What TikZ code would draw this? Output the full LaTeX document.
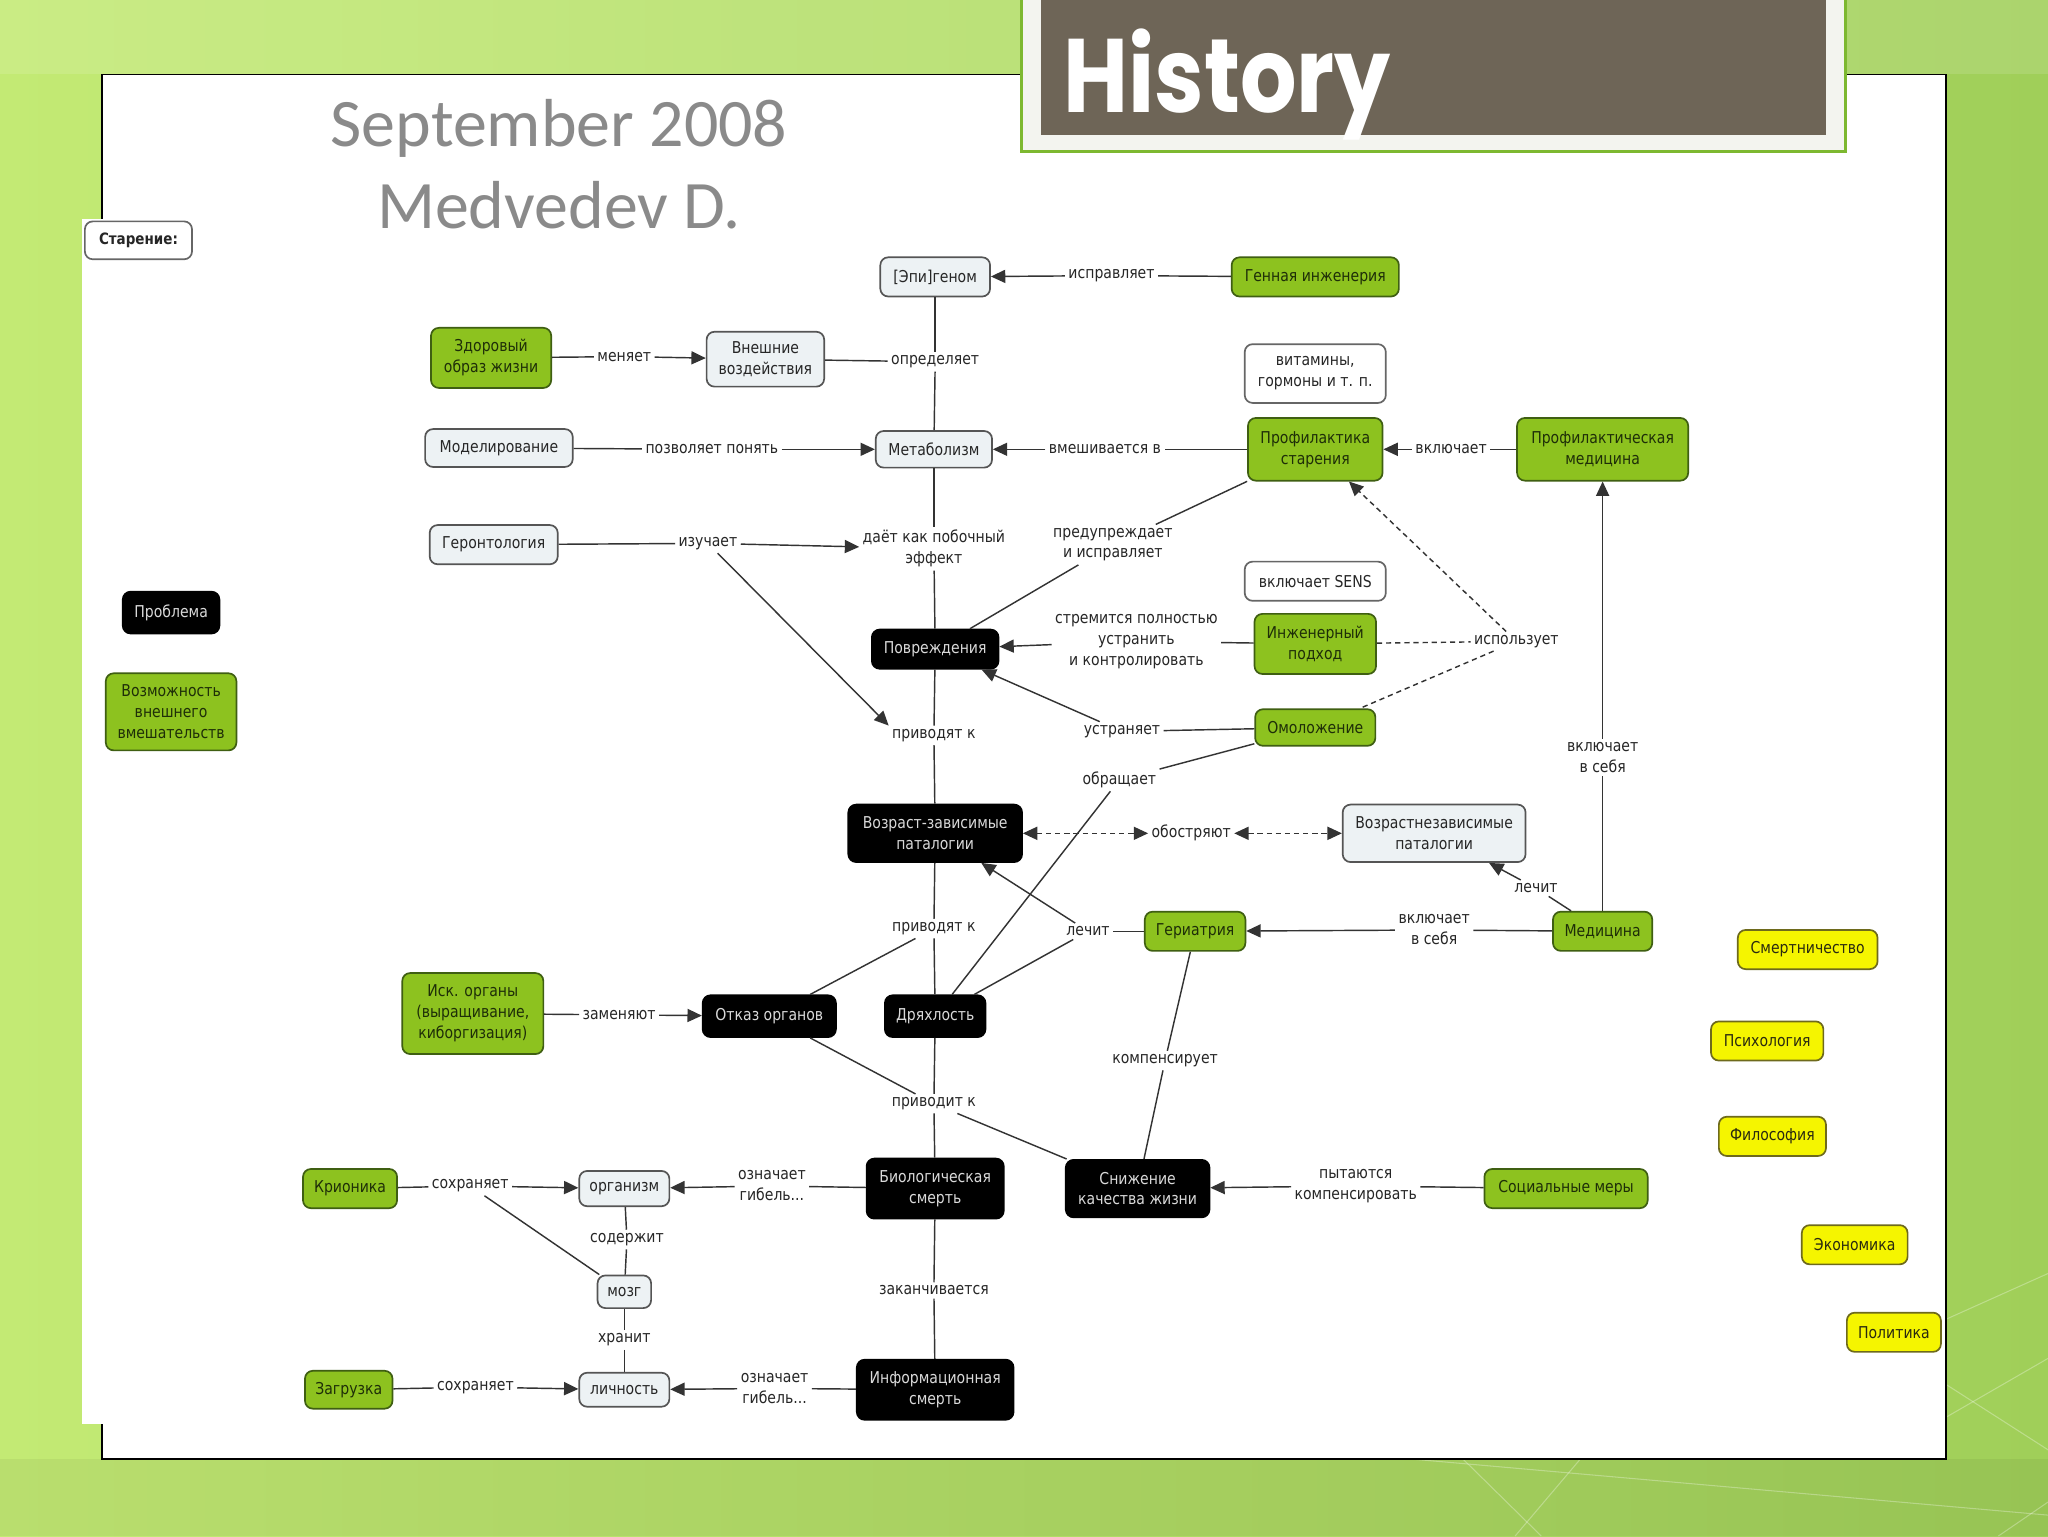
\documentclass[tikz,border=0pt]{standalone}
\usepackage{fontspec}
\usetikzlibrary{arrows.meta}
\newfontfamily\cmf[FakeStretch=0.86]{DejaVu Sans}
\newfontfamily\titlef{Poppins}
\newfontfamily\calf{Carlito}
\definecolor{bgL}{HTML}{C3EA74}
\definecolor{bgR}{HTML}{A0CF59}
\definecolor{gfill}{HTML}{8DC21F}
\definecolor{gborder}{HTML}{3F5F12}
\definecolor{gtext}{HTML}{1E2E08}
\definecolor{btext}{HTML}{DADADA}
\definecolor{lfill}{HTML}{EDF2F4}
\definecolor{lborder}{HTML}{555555}
\definecolor{ltext}{HTML}{262626}
\definecolor{wborder}{HTML}{666666}
\definecolor{yfill}{HTML}{F5F500}
\definecolor{yborder}{HTML}{6E6A1C}
\definecolor{ytext}{HTML}{2A2A10}
\definecolor{lc}{HTML}{333333}
\definecolor{titlebrown}{HTML}{6E6557}
\definecolor{titlegreen}{HTML}{7DB830}
\definecolor{titleouter}{HTML}{F3F4EF}
\definecolor{graytxt}{HTML}{8A8A8A}
\begin{document}
\begin{tikzpicture}[x=1pt,y=-1pt,
  box/.style={rectangle, rounded corners=6pt, line width=1.3pt, align=center, inner sep=1pt,
    font=\cmf\fontsize{12.5}{16}\selectfont},
  gn/.style={box, draw=gborder, fill=gfill, text=gtext},
  bk/.style={box, draw=black, fill=black, text=btext},
  lt/.style={box, draw=lborder, fill=lfill, text=ltext},
  wt/.style={box, draw=wborder, fill=white, text=ltext},
  yl/.style={box, draw=yborder, fill=yfill, text=ytext},
  lbl/.style={align=center, inner sep=2.5pt, text=ltext, font=\cmf\fontsize{12.5}{16}\selectfont},
  ln/.style={draw=lc, line width=1.1pt},
  ar/.style={ln, -{Triangle[length=11pt,width=10pt]}},
  dl/.style={ln, dash pattern=on 4pt off 3pt},
  da/.style={dl, -{Triangle[length=11pt,width=10pt]}},
  dd/.style={dl, {Triangle[length=11pt,width=10pt]}-{Triangle[length=11pt,width=10pt]}},
]
% background
\path[use as bounding box] (0,0) rectangle (1568,1176);
\shade[left color=bgL, right color=bgR] (0,0) rectangle (1568,1176);
\fill[white, opacity=0.12] (0,0) rectangle (1568,57);
\fill[black, opacity=0.05] (0,1117) rectangle (1568,1176);
\begin{scope}[white, opacity=0.3, line width=0.8pt]
  \draw (1490,1010) -- (1568,975);
  \draw (1490,1060) -- (1568,1110);
  \draw (1490,1085) -- (1568,1040);
  \draw (1530,1176) -- (1568,1150);
  \draw (1160,1176) -- (1210,1117);
  \draw (1080,1117) -- (1568,1160);
  \draw (1120,1117) -- (1180,1176);
\end{scope}
% panel
\draw[fill=white, line width=1pt] (78,57) rectangle (1490,1117);
\fill[white] (63,168) rectangle (1488,1090);
% title
\draw[fill=titleouter, draw=titlegreen, line width=2pt] (782,-5) rectangle (1413,116);
\fill[titlebrown] (797,-5) rectangle (1398,103);
\node[anchor=base west, inner sep=0pt, text=white, font=\titlef\bfseries\fontsize{80}{80}\selectfont] (hist) at (814,86) {\scalebox{0.85}[1]{History}};
\node[anchor=base, inner sep=0pt, text=graytxt, font=\calf\fontsize{52}{52}\selectfont] (sept) at (428,112) {September 2008};
\node[anchor=base, inner sep=0pt, text=graytxt, font=\calf\fontsize{52}{52}\selectfont] (medv) at (428,175) {Medvedev D.};

% nodes
\node[wt, minimum width=82, minimum height=29, font=\cmf\bfseries\fontsize{12}{15}\selectfont] (staren) at (106,184) {Старение:};
\node[bk, minimum width=74, minimum height=32] (problema) at (131,469) {Проблема};
\node[gn, minimum width=100, minimum height=59] (vozm) at (131,545) {Возможность\\внешнего\\вмешательств};

\node[lt, minimum width=84, minimum height=30] (epi) at (716,212) {[Эпи]геном};
\node[gn, minimum width=128, minimum height=30] (genn) at (1007,212) {Генная инженерия};
\node[gn, minimum width=92, minimum height=46] (zdor) at (376,274) {Здоровый\\образ жизни};
\node[lt, minimum width=90, minimum height=42] (vnesh) at (586,275) {Внешние\\воздействия};
\node[wt, minimum width=108, minimum height=45] (vitam) at (1007,286) {витамины,\\гормоны и т. п.};
\node[lt, minimum width=113, minimum height=29] (model) at (382,343) {Моделирование};
\node[lt, minimum width=89, minimum height=28] (metab) at (715,344) {Метаболизм};
\node[gn, minimum width=103, minimum height=48] (profst) at (1007,344) {Профилактика\\старения};
\node[gn, minimum width=131, minimum height=48] (profmed) at (1227,344) {Профилактическая\\медицина};
\node[lt, minimum width=98, minimum height=30] (geront) at (378,417) {Геронтология};
\node[wt, minimum width=108, minimum height=30] (sens) at (1007,445) {включает SENS};
\node[bk, minimum width=97, minimum height=30] (povr) at (716,497) {Повреждения};
\node[gn, minimum width=93, minimum height=46] (inzh) at (1007,493) {Инженерный\\подход};
\node[gn, minimum width=92, minimum height=28] (omol) at (1007,557) {Омоложение};
\node[bk, minimum width=133, minimum height=44] (vzp) at (716,638) {Возраст-зависимые\\паталогии};
\node[lt, minimum width=140, minimum height=44] (vnzp) at (1098,638) {Возрастнезависимые\\паталогии};
\node[gn, minimum width=77, minimum height=30] (geriat) at (915,713) {Гериатрия};
\node[gn, minimum width=76, minimum height=30] (medic) at (1227,713) {Медицина};
\node[gn, minimum width=108, minimum height=62] (isk) at (362,776) {Иск. органы\\(выращивание,\\киборгизация)};
\node[bk, minimum width=102, minimum height=32] (otkaz) at (589,778) {Отказ органов};
\node[bk, minimum width=77, minimum height=32] (dryah) at (716,778) {Дряхлость};
\node[yl, minimum width=107, minimum height=30] (smert) at (1384,727) {Смертничество};
\node[yl, minimum width=86, minimum height=30] (psych) at (1353,797) {Психология};
\node[yl, minimum width=82, minimum height=30] (philo) at (1357,870) {Философия};
\node[yl, minimum width=81, minimum height=30] (econ) at (1420,953) {Экономика};
\node[yl, minimum width=72, minimum height=30] (polit) at (1450,1020) {Политика};
\node[bk, minimum width=105, minimum height=46] (bio) at (716,910) {Биологическая\\смерть};
\node[bk, minimum width=110, minimum height=44] (snizh) at (871,910) {Снижение\\качества жизни};
\node[gn, minimum width=125, minimum height=30] (social) at (1199,910) {Социальные меры};
\node[gn, minimum width=72, minimum height=30] (krion) at (268,910) {Крионика};
\node[lt, minimum width=69, minimum height=27] (organ) at (478,910) {организм};
\node[lt, minimum width=41, minimum height=25] (mozg) at (478,989) {мозг};
\node[gn, minimum width=67, minimum height=29] (zagr) at (267,1064) {Загрузка};
\node[lt, minimum width=69, minimum height=26] (lichn) at (478,1064) {личность};
\node[bk, minimum width=120, minimum height=46] (inform) at (716,1064) {Информационная\\смерть};

% link labels
\node[lbl] (ispr) at (851,211) {исправляет};
\node[lbl] (menyaet) at (478,273) {меняет};
\node[lbl] (opred) at (716,277) {определяет};
\node[lbl] (pozv) at (545,344) {позволяет понять};
\node[lbl] (vmesh) at (846,344) {вмешивается в};
\node[lbl] (vkl1) at (1111,344) {включает};
\node[lbl] (izuch) at (542,416) {изучает};
\node[lbl] (daet) at (715,420) {даёт как побочный\\эффект};
\node[lbl] (pred) at (852,417) {предупреждает\\и исправляет};
\node[lbl] (strem) at (870,491) {стремится полностью\\устранить\\и контролировать};
\node[lbl] (ispolz) at (1161,491) {использует};
\node[lbl] (ustr) at (859,560) {устраняет};
\node[lbl] (obr) at (857,597) {обращает};
\node[lbl] (privod1) at (715,563) {приводят к};
\node[lbl] (vkl2) at (1227,580) {включает\\в себя};
\node[lbl] (obostr) at (912,638) {обостряют};
\node[lbl] (lech2) at (1176,680) {лечит};
\node[lbl] (privod2) at (715,711) {приводят к};
\node[lbl] (lech1) at (833,713) {лечит};
\node[lbl] (vkl3) at (1098,712) {включает\\в себя};
\node[lbl] (zamen) at (474,777) {заменяют};
\node[lbl] (komp) at (892,812) {компенсирует};
\node[lbl] (privod3) at (715,845) {приводит к};
\node[lbl] (sohr1) at (360,908) {сохраняет};
\node[lbl] (oznach1) at (591,908) {означает\\гибель...};
\node[lbl] (pyt) at (1038,908) {пытаются\\компенсировать};
\node[lbl] (soderzh) at (480,949) {содержит};
\node[lbl] (zakanch) at (715,988) {заканчивается};
\node[lbl] (hranit) at (478,1026) {хранит};
\node[lbl] (sohr2) at (364,1062) {сохраняет};
\node[lbl] (oznach2) at (593,1063) {означает\\гибель...};

% connectors
\draw[ln] (genn) -- (ispr); \draw[ar] (ispr) -- (epi);
\draw[ln] (zdor) -- (menyaet); \draw[ar] (menyaet) -- (vnesh);
\draw[ln] (vnesh) -- (opred);
\draw[ln] (epi) -- (opred); \draw[ln] (opred) -- (metab);
\draw[ln] (model) -- (pozv); \draw[ar] (pozv) -- (metab);
\draw[ln] (profst) -- (vmesh); \draw[ar] (vmesh) -- (metab);
\draw[ln] (profmed) -- (vkl1); \draw[ar] (vkl1) -- (profst);
\draw[ln] (metab) -- (daet); \draw[ln] (daet) -- (povr);
\draw[ln] (geront) -- (izuch); \draw[ar] (izuch) -- (daet); \draw[ar] (izuch) -- (privod1.north west);
\draw[ln] (profst) -- (pred); \draw[ln] (pred) -- (povr);
\draw[ln] (inzh) -- (strem); \draw[ar] (strem) -- (povr);
\draw[dl] (inzh) -- (ispolz); \draw[da] (ispolz) -- (profst); \draw[dl] (ispolz) -- (omol);
\draw[ln] (omol) -- (ustr); \draw[ar] (ustr) -- (povr);
\draw[ln] (omol) -- (obr); \draw[ln] (obr) -- (dryah);
\draw[ln] (povr) -- (privod1); \draw[ln] (privod1) -- (vzp);
\draw[dd] (vzp) -- (obostr); \draw[dd] (obostr) -- (vnzp);
\draw[ln] (medic) -- (lech2); \draw[ar] (lech2) -- (vnzp);
\draw[ln] (medic) -- (vkl2); \draw[ar] (vkl2) -- (profmed);
\draw[ln] (medic) -- (vkl3); \draw[ar] (vkl3) -- (geriat);
\draw[ln] (geriat) -- (lech1); \draw[ar] (lech1) -- (vzp); \draw[ln] (lech1) -- (dryah);
\draw[ln] (vzp) -- (privod2); \draw[ln] (privod2) -- (dryah); \draw[ln] (privod2) -- (otkaz);
\draw[ln] (geriat) -- (komp); \draw[ln] (komp) -- (snizh);
\draw[ln] (isk) -- (zamen); \draw[ar] (zamen) -- (otkaz);
\draw[ln] (dryah) -- (privod3); \draw[ln] (otkaz) -- (privod3);
\draw[ln] (privod3) -- (bio); \draw[ln] (privod3) -- (snizh);
\draw[ln] (social) -- (pyt); \draw[ar] (pyt) -- (snizh);
\draw[ln] (bio) -- (oznach1); \draw[ar] (oznach1) -- (organ);
\draw[ln] (krion) -- (sohr1); \draw[ar] (sohr1) -- (organ); \draw[ln] (sohr1) -- (mozg);
\draw[ln] (organ) -- (soderzh); \draw[ln] (soderzh) -- (mozg);
\draw[ln] (mozg) -- (hranit); \draw[ln] (hranit) -- (lichn);
\draw[ln] (zagr) -- (sohr2); \draw[ar] (sohr2) -- (lichn);
\draw[ln] (inform) -- (oznach2); \draw[ar] (oznach2) -- (lichn);
\draw[ln] (bio) -- (zakanch); \draw[ln] (zakanch) -- (inform);
\end{tikzpicture}
\end{document}
